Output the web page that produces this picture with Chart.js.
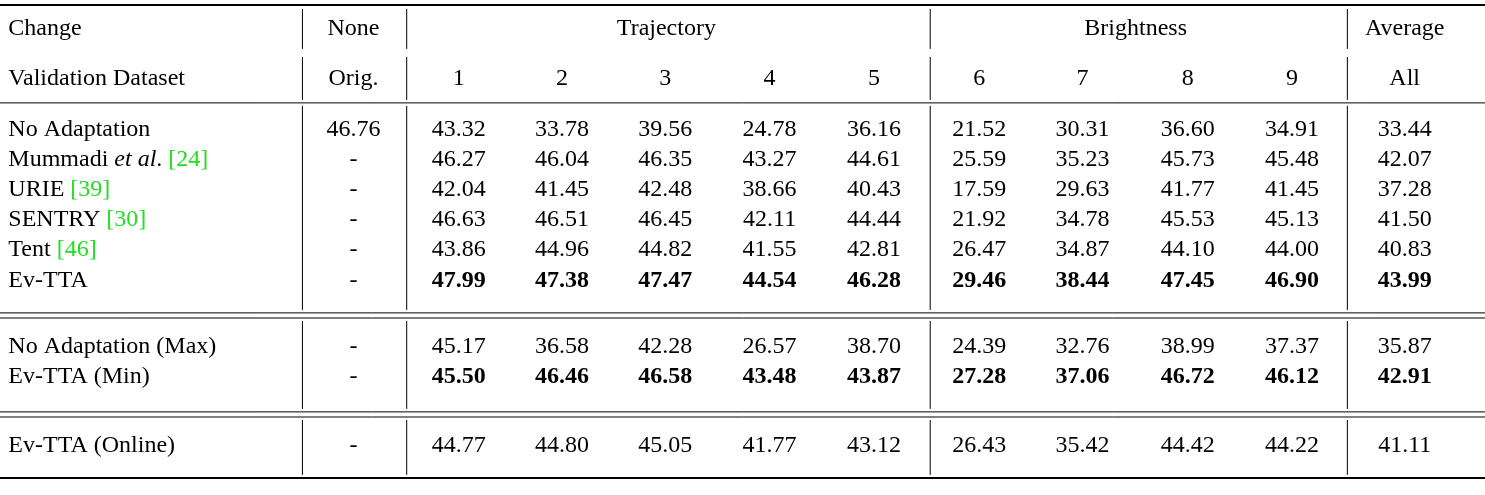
<!DOCTYPE html>
<html>
<head>
<meta charset="utf-8">
<script src="https://cdn.jsdelivr.net/npm/chart.js@4/dist/chart.umd.min.js"></script>
<style>
  html, body { margin: 0; padding: 0; background: #fff; }
  #wrap { width: 1485px; height: 495px; }
</style>
</head>
<body>
<div id="wrap"><canvas id="tbl"></canvas></div>
<script>
// ---- table data ----
const groups = ['None', 'Trajectory', 'Brightness', 'Average'];
const columns = ['Orig.', '1', '2', '3', '4', '5', '6', '7', '8', '9', 'All'];
const rowLabels = [
    ['No Adaptation'],
    ['Mummadi ', { t: 'et al', i: true }, '. ', { t: '[24]', g: true }],
    ['URIE ', { t: '[39]', g: true }],
    ['SENTRY ', { t: '[30]', g: true }],
    ['Tent ', { t: '[46]', g: true }],
    ['Ev-TTA'],
    ['No Adaptation (Max)'],
    ['Ev-TTA (Min)'],
    ['Ev-TTA (Online)']
];
const noAdaptation = ['46.76', '43.32', '33.78', '39.56', '24.78', '36.16', '21.52', '30.31', '36.60', '34.91', '33.44'];
const mummadi = ['-', '46.27', '46.04', '46.35', '43.27', '44.61', '25.59', '35.23', '45.73', '45.48', '42.07'];
const urie = ['-', '42.04', '41.45', '42.48', '38.66', '40.43', '17.59', '29.63', '41.77', '41.45', '37.28'];
const sentry = ['-', '46.63', '46.51', '46.45', '42.11', '44.44', '21.92', '34.78', '45.53', '45.13', '41.50'];
const tent = ['-', '43.86', '44.96', '44.82', '41.55', '42.81', '26.47', '34.87', '44.10', '44.00', '40.83'];
const evTTA = ['-', '47.99', '47.38', '47.47', '44.54', '46.28', '29.46', '38.44', '47.45', '46.90', '43.99'];
const noAdaptMax = ['-', '45.17', '36.58', '42.28', '26.57', '38.70', '24.39', '32.76', '38.99', '37.37', '35.87'];
const evTTAMin = ['-', '45.50', '46.46', '46.58', '43.48', '43.87', '27.28', '37.06', '46.72', '46.12', '42.91'];
const evTTAOnline = ['-', '44.77', '44.80', '45.05', '41.77', '43.12', '26.43', '35.42', '44.42', '44.22', '41.11'];
const rowValues = [noAdaptation, mummadi, urie, sentry, tent, evTTA, noAdaptMax, evTTAMin, evTTAOnline];
const boldRows = [5, 7];

// ---- layout (scale units) ----
const colX = [3.39, 4.4, 5.39, 6.38, 7.38, 8.38, 9.39, 10.38, 11.39, 12.39, 13.47];
const groupX = [3.39, 6.39, 10.89, 13.47];
const vLines = [2.9, 3.9, 8.92, 12.92];
const headerY = [0.97, 2.63];
const rowY = [4.33, 5.33, 6.33, 7.33, 8.33, 9.36, 11.57, 12.57, 14.87];
const SERIF = '"Liberation Serif", "DejaVu Serif", serif';

const tablePlugin = {
    id: 'table',
    afterDraw(chart) {
        const c = chart.ctx, xs = chart.scales.x, ys = chart.scales.y;
        const X = v => xs.getPixelForValue(v), Y = v => ys.getPixelForValue(v);
        const font = (b, it) => `${it ? 'italic ' : ''}${b ? 'bold ' : ''}24px ${SERIF}`;
        c.save();
        c.textBaseline = 'middle';
        c.fillStyle = '#000';

        // header
        c.font = font(false);
        c.textAlign = 'left';
        c.fillText('Change', X(0.08), Y(headerY[0]));
        c.fillText('Validation Dataset', X(0.08), Y(headerY[1]));
        c.textAlign = 'center';
        groups.forEach((g, i) => c.fillText(g, X(groupX[i]), Y(headerY[0])));
        columns.forEach((h, i) => c.fillText(h, X(colX[i]), Y(headerY[1])));

        // body
        rowLabels.forEach((parts, r) => {
            let x = X(0.08);
            c.textAlign = 'left';
            parts.forEach(p => {
                const o = typeof p === 'string' ? { t: p } : p;
                c.font = font(false, o.i);
                c.fillStyle = o.g ? '#22dd22' : '#000';
                c.fillText(o.t, x, Y(rowY[r]));
                x += c.measureText(o.t).width;
            });
            c.fillStyle = '#000';
            c.textAlign = 'center';
            rowValues[r].forEach((v, i) => {
                c.font = font(boldRows.includes(r) && v !== '-');
                c.fillText(v, X(colX[i]), Y(rowY[r]));
            });
        });

        // horizontal rules
        const hline = (y, w) => {
            c.lineWidth = w;
            c.beginPath(); c.moveTo(X(0), Y(y)); c.lineTo(X(14.24), Y(y)); c.stroke();
        };
        hline(0.17, 2); hline(3.43, 1);
        hline(10.43, 1); hline(10.6, 1);
        hline(13.73, 1); hline(13.9, 1);
        hline(15.93, 2);

        // vertical rules, broken per band
        const bands = [[0.3, 1.63], [1.9, 3.33], [3.53, 10.33], [10.7, 13.63], [14.0, 15.83]];
        c.lineWidth = 1;
        bands.forEach(([a, b]) => {
            vLines.forEach(vx => {
                c.beginPath(); c.moveTo(X(vx), Y(a)); c.lineTo(X(vx), Y(b)); c.stroke();
            });
        });
        c.restore();
    }
};

new Chart(document.getElementById('tbl'), {
    type: 'scatter',
    data: { datasets: [{ data: [] }] },
    options: {
        responsive: true,
        maintainAspectRatio: false,
        animation: false,
        layout: { padding: 0 },
        plugins: { legend: { display: false }, tooltip: { enabled: false } },
        scales: {
            x: { type: 'linear', min: 0, max: 14.24, display: false },
            y: { type: 'linear', min: 0, max: 16.5, reverse: true, display: false }
        }
    },
    plugins: [tablePlugin]
});
</script>
</body>
</html>
